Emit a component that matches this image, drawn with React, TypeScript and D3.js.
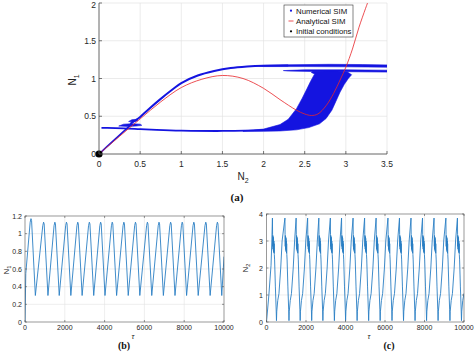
import React from 'react';
import * as d3 from 'd3';

const W = 474;
const H = 356;

// ---------- (a) phase portrait, points are [N2, N1] ----------
const analyticalSIM: [number, number][] = [
  [0, 0], [0.25, 0.235], [0.5, 0.465], [0.75, 0.69], [1.0, 0.88], [1.25, 0.99], [1.5, 1.04],
  [1.75, 1.0], [2.0, 0.87], [2.2, 0.72], [2.4, 0.58], [2.5, 0.53], [2.58, 0.51], [2.66, 0.53],
  [2.76, 0.64], [2.85, 0.8], [2.93, 0.98], [3.0, 1.15], [3.08, 1.39], [3.16, 1.68], [3.24, 1.93], [3.28, 2.05],
];
const numTransient: [number, number][] = [[0, 0], [0.1, 0.1], [0.2, 0.2], [0.3, 0.3], [0.38, 0.38]];
const numUpper: [number, number][] = [
  [0.38, 0.4], [0.45, 0.45], [0.5, 0.49], [0.6, 0.59], [0.75, 0.73], [0.9, 0.86], [1.0, 0.94],
  [1.2, 1.04], [1.4, 1.1], [1.6, 1.14], [1.8, 1.16], [2.0, 1.17], [2.3, 1.172],
];
const numLower: [number, number][] = [
  [2.3, 0.335], [2.0, 0.315], [1.5, 0.305], [1.0, 0.31], [0.7, 0.32], [0.5, 0.33], [0.3, 0.34], [0.1, 0.345], [0.03, 0.345],
];
const numTopBand: [number, number][] = [
  [1.9, 1.17], [2.3, 1.182], [2.8, 1.188], [3.2, 1.185], [3.5, 1.18], [3.5, 1.15], [3.0, 1.155], [2.5, 1.158], [2.0, 1.158],
];
const numMidBand: [number, number][] = [
  [2.24, 1.105], [2.5, 1.115], [3.0, 1.115], [3.5, 1.11], [3.5, 1.085], [3.0, 1.09], [2.6, 1.092], [2.3, 1.098],
];
const numFan: [number, number][] = [
  [1.75, 0.305], [2.0, 0.33], [2.2, 0.39], [2.3, 0.46], [2.4, 0.6], [2.47, 0.74], [2.53, 0.87], [2.57, 0.96],
  [2.6, 1.02], [2.62, 1.06], [2.58, 1.08], [2.6, 1.095], [2.75, 1.1], [2.9, 1.098], [3.02, 1.085], [3.07, 1.05],
  [3.03, 1.0], [2.98, 0.92], [2.93, 0.82], [2.88, 0.7], [2.83, 0.58], [2.76, 0.47], [2.68, 0.4], [2.55, 0.35],
  [2.4, 0.32], [2.2, 0.305], [2.0, 0.3], [1.75, 0.3],
];
const numBlob1: [number, number][] = [[0.24, 0.37], [0.3, 0.395], [0.4, 0.402], [0.5, 0.395], [0.52, 0.38], [0.45, 0.37], [0.35, 0.365]];
const numBlob2: [number, number][] = [[0.36, 0.43], [0.4, 0.455], [0.46, 0.46], [0.47, 0.44], [0.42, 0.425]];
const initialCondition: [number, number] = [0, 0];
const aXTicks = [0, 0.5, 1, 1.5, 2, 2.5, 3, 3.5];
const aYTicks = [0, 0.5, 1, 1.5, 2];
const legendLabels = ['Numerical SIM', 'Analytical SIM', 'Initial conditions'];

// ---------- (b), (c) time series ----------
const cycleTimes = [300, 933, 1500, 2083, 2650, 3233, 3800, 4383, 4967, 5550, 6150, 6733, 7317, 7900, 8483, 9083, 9667];
const n1Peaks = [1.17, 1.13, 1.13, 1.13, 1.13, 1.13, 1.13, 1.13, 1.13, 1.13, 1.13, 1.13, 1.13, 1.13, 1.13, 1.13, 1.13];
const n1Start: [number, number][] = [[0, 0], [40, 0.55]];
const n1CycleOffsets = [-40, 0, 30, 220];
const n1CycleDelta = [-0.04, 0, -0.02, null];
const n1Trough = 0.3;
const n1End: [number, number][] = [[10000, 0.74]];

const n2Start: [number, number][] = [[0, 0], [120, 1.0], [230, 2.1], [270, 3.0]];
const n2CycleOffsets = [0, 8, 16, 24, 32, 40, 48, 56, 64, 72, 80, 88, 96, 110, 150, 190, 205, 220, 270, 330, 420, 490];
const n2CycleValues = [3.85, 3.25, 2.8, 3.2, 2.7, 3.15, 2.65, 3.1, 2.6, 3.0, 2.55, 2.9, 2.5, 2.3, 1.3, 0.45, 0.05, 0.4, 0.8, 1.05, 2.0, 3.0];
const n2End: [number, number][] = [[10000, 1.06]];

const bXTicks = [0, 2000, 4000, 6000, 8000, 10000];
const bYTicks = [0, 0.2, 0.4, 0.6, 0.8, 1, 1.2];
const cYTicks = [0, 1, 2, 3, 4];

function buildN1(): [number, number][] {
  const pts: [number, number][] = [...n1Start];
  cycleTimes.forEach((s, i) => {
    n1CycleOffsets.forEach((o, j) => {
      const d = n1CycleDelta[j];
      const v = d === null ? n1Trough : n1Peaks[i] + d;
      if (s + o < 10000) pts.push([s + o, v]);
    });
  });
  return [...pts, ...n1End];
}
function buildN2(): [number, number][] {
  const pts: [number, number][] = [...n2Start];
  cycleTimes.forEach((s) => {
    n2CycleOffsets.forEach((o, j) => {
      if (s + o < 10000) pts.push([s + o, n2CycleValues[j]]);
    });
  });
  return [...pts, ...n2End];
}

const FONT = "'Liberation Sans', Arial, sans-serif";
const SERIF = "'Liberation Serif', 'Times New Roman', serif";
const AX = '#404040';
const GRID = '#e3e3e3';
const BLUE = '#1414e0';
const LINE = '#2a7fc4';

function Sub({ x, y, main, sub, size, rotate }: { x: number; y: number; main: string; sub: string; size: number; rotate?: boolean }) {
  return (
    <text x={x} y={y} fontFamily={FONT} fontSize={size} fill="#222" textAnchor="middle"
      transform={rotate ? `rotate(-90 ${x} ${y})` : undefined}>
      {main}
      <tspan fontSize={size * 0.7} dy={size * 0.3}>{sub}</tspan>
    </text>
  );
}

export default function App() {
  // (a)
  const xA = d3.scaleLinear().domain([0, 3.5]).range([99, 387]);
  const yA = d3.scaleLinear().domain([0, 2]).range([154, 3]);
  const lineA = d3.line<[number, number]>().x((d) => xA(d[0])).y((d) => yA(d[1]));
  const smoothA = d3.line<[number, number]>().x((d) => xA(d[0])).y((d) => yA(d[1])).curve(d3.curveCatmullRom);
  const polyA = (pts: [number, number][]) => lineA(pts) + 'Z';

  // (b)
  const xB = d3.scaleLinear().domain([0, 10000]).range([25, 224]);
  const yB = d3.scaleLinear().domain([0, 1.2]).range([322, 216]);
  const lineB = d3.line<[number, number]>().x((d) => xB(d[0])).y((d) => yB(d[1]));
  // (c)
  const xC = d3.scaleLinear().domain([0, 10000]).range([266.5, 464]);
  const yC = d3.scaleLinear().domain([0, 4]).range([322, 214]);
  const lineC = d3.line<[number, number]>().x((d) => xC(d[0])).y((d) => yC(d[1]));

  const n1 = buildN1();
  const n2 = buildN2();

  const fmt = (v: number) => String(v);

  return (
    <svg width={W} height={H} style={{ position: 'absolute', left: 0, top: 0, background: '#fff' }}>
      <defs>
        <clipPath id="clipA"><rect x={99} y={3} width={288} height={151} /></clipPath>
        <clipPath id="clipB"><rect x={25} y={216} width={199} height={106} /></clipPath>
        <clipPath id="clipC"><rect x={266.5} y={214} width={197.5} height={108} /></clipPath>
      </defs>

      {/* ---------- (a) ---------- */}
      {aXTicks.filter((t) => t > 0).map((t) => (
        <line key={'gax' + t} x1={xA(t)} x2={xA(t)} y1={yA(0)} y2={yA(2)} stroke={GRID} strokeWidth={0.7} />
      ))}
      {aYTicks.filter((t) => t > 0).map((t) => (
        <line key={'gay' + t} x1={xA(0)} x2={xA(3.5)} y1={yA(t)} y2={yA(t)} stroke={GRID} strokeWidth={0.7} />
      ))}
      <g clipPath="url(#clipA)">
        <path d={polyA(numFan)} fill={BLUE} stroke={BLUE} strokeWidth={0.6} />
        <path d={polyA(numTopBand)} fill={BLUE} stroke={BLUE} strokeWidth={0.6} />
        <path d={polyA(numMidBand)} fill={BLUE} stroke={BLUE} strokeWidth={0.6} />
        <path d={polyA(numBlob1)} fill={BLUE} stroke={BLUE} strokeWidth={0.6} />
        <path d={polyA(numBlob2)} fill={BLUE} stroke={BLUE} strokeWidth={0.6} />
        <path d={smoothA(numUpper) || ''} fill="none" stroke={BLUE} strokeWidth={2} />
        <path d={smoothA(numLower) || ''} fill="none" stroke={BLUE} strokeWidth={1.8} />
        <path d={lineA(numTransient) || ''} fill="none" stroke={BLUE} strokeWidth={1.6} />
        <path d={smoothA(analyticalSIM) || ''} fill="none" stroke="#e8262b" strokeWidth={0.9} opacity={0.9} />
      </g>
      <circle cx={xA(initialCondition[0])} cy={yA(initialCondition[1])} r={3.6} fill="#000" />
      <line x1={xA(0)} x2={xA(0)} y1={yA(0)} y2={yA(2)} stroke={AX} strokeWidth={0.8} />
      <line x1={xA(0)} x2={xA(3.5)} y1={yA(0)} y2={yA(0)} stroke={AX} strokeWidth={0.8} />
      {aXTicks.map((t) => (
        <g key={'tax' + t}>
          <line x1={xA(t)} x2={xA(t)} y1={yA(0)} y2={yA(0) - 3} stroke={AX} strokeWidth={0.7} />
          <text x={xA(t)} y={167} fontFamily={FONT} fontSize={8.5} fill="#262626" textAnchor="middle">{fmt(t)}</text>
        </g>
      ))}
      {aYTicks.map((t) => (
        <g key={'tay' + t}>
          <line x1={xA(0)} x2={xA(0) + 3} y1={yA(t)} y2={yA(t)} stroke={AX} strokeWidth={0.7} />
          <text x={96} y={Math.max(yA(t) + 3, 8)} fontFamily={FONT} fontSize={8.5} fill="#262626" textAnchor="end">{fmt(t)}</text>
        </g>
      ))}
      <Sub x={243} y={180} main="N" sub="2" size={10} />
      <Sub x={76} y={80} main="N" sub="1" size={10} rotate />
      <text x={237} y={201} fontFamily={SERIF} fontWeight="bold" fontSize={11} textAnchor="middle" fill="#111">(a)</text>

      {/* legend */}
      <rect x={284} y={5} width={69} height={32} fill="#fff" stroke="#333" strokeWidth={0.6} />
      <circle cx={291} cy={10.7} r={1.1} fill={BLUE} />
      <line x1={288.5} x2={293.5} y1={21} y2={21} stroke="#e8262b" strokeWidth={0.8} />
      <circle cx={291} cy={31.3} r={1.1} fill="#000" />
      {legendLabels.map((l, i) => (
        <text key={l} x={296} y={13.5 + i * 10.3} fontFamily={FONT} fontSize={7.8} fill="#111">{l}</text>
      ))}

      {/* ---------- (b) ---------- */}
      {bXTicks.filter((t) => t > 0 && t < 10000).map((t) => (
        <line key={'gbx' + t} x1={xB(t)} x2={xB(t)} y1={yB(0)} y2={yB(1.2)} stroke={GRID} strokeWidth={0.6} />
      ))}
      {bYTicks.filter((t) => t > 0 && t < 1.2).map((t) => (
        <line key={'gby' + t} x1={xB(0)} x2={xB(10000)} y1={yB(t)} y2={yB(t)} stroke={GRID} strokeWidth={0.6} />
      ))}
      <g clipPath="url(#clipB)">
        <path d={lineB(n1) || ''} fill="none" stroke={LINE} strokeWidth={0.9} />
      </g>
      <rect x={xB(0)} y={yB(1.2)} width={xB(10000) - xB(0)} height={yB(0) - yB(1.2)} fill="none" stroke="#555" strokeWidth={0.6} />
      {bXTicks.map((t) => (
        <g key={'tbx' + t}>
          <line x1={xB(t)} x2={xB(t)} y1={yB(0)} y2={yB(0) - 2} stroke="#555" strokeWidth={0.6} />
          <line x1={xB(t)} x2={xB(t)} y1={yB(1.2)} y2={yB(1.2) + 2} stroke="#555" strokeWidth={0.6} />
          <text x={xB(t)} y={330} fontFamily={FONT} fontSize={7} fill="#262626" textAnchor="middle">{t}</text>
        </g>
      ))}
      {bYTicks.map((t) => (
        <g key={'tby' + t}>
          <line x1={xB(0)} x2={xB(0) + 2} y1={yB(t)} y2={yB(t)} stroke="#555" strokeWidth={0.6} />
          <line x1={xB(10000)} x2={xB(10000) - 2} y1={yB(t)} y2={yB(t)} stroke="#555" strokeWidth={0.6} />
          <text x={22} y={yB(t) + 2.5} fontFamily={FONT} fontSize={7} fill="#262626" textAnchor="end">{fmt(t)}</text>
        </g>
      ))}
      <Sub x={9} y={270} main="N" sub="1" size={8} rotate />
      <text x={133} y={339} fontFamily={FONT} fontSize={7.5} fontStyle="italic" fill="#222" textAnchor="middle">τ</text>
      <text x={124} y={349} fontFamily={SERIF} fontWeight="bold" fontSize={10} textAnchor="middle" fill="#111">(b)</text>

      {/* ---------- (c) ---------- */}
      {bXTicks.filter((t) => t > 0 && t < 10000).map((t) => (
        <line key={'gcx' + t} x1={xC(t)} x2={xC(t)} y1={yC(0)} y2={yC(4)} stroke={GRID} strokeWidth={0.6} />
      ))}
      {cYTicks.filter((t) => t > 0 && t < 4).map((t) => (
        <line key={'gcy' + t} x1={xC(0)} x2={xC(10000)} y1={yC(t)} y2={yC(t)} stroke={GRID} strokeWidth={0.6} />
      ))}
      <g clipPath="url(#clipC)">
        <path d={lineC(n2) || ''} fill="none" stroke={LINE} strokeWidth={0.9} />
      </g>
      <rect x={xC(0)} y={yC(4)} width={xC(10000) - xC(0)} height={yC(0) - yC(4)} fill="none" stroke="#555" strokeWidth={0.6} />
      {bXTicks.map((t) => (
        <g key={'tcx' + t}>
          <line x1={xC(t)} x2={xC(t)} y1={yC(0)} y2={yC(0) - 2} stroke="#555" strokeWidth={0.6} />
          <line x1={xC(t)} x2={xC(t)} y1={yC(4)} y2={yC(4) + 2} stroke="#555" strokeWidth={0.6} />
          <text x={xC(t)} y={330} fontFamily={FONT} fontSize={7} fill="#262626" textAnchor="middle">{t}</text>
        </g>
      ))}
      {cYTicks.map((t) => (
        <g key={'tcy' + t}>
          <line x1={xC(0)} x2={xC(0) + 2} y1={yC(t)} y2={yC(t)} stroke="#555" strokeWidth={0.6} />
          <line x1={xC(10000)} x2={xC(10000) - 2} y1={yC(t)} y2={yC(t)} stroke="#555" strokeWidth={0.6} />
          <text x={263} y={yC(t) + 2.5} fontFamily={FONT} fontSize={7} fill="#262626" textAnchor="end">{fmt(t)}</text>
        </g>
      ))}
      <Sub x={248} y={268} main="N" sub="2" size={8} rotate />
      <text x={369} y={339} fontFamily={FONT} fontSize={7.5} fontStyle="italic" fill="#222" textAnchor="middle">τ</text>
      <text x={389} y={349} fontFamily={SERIF} fontWeight="bold" fontSize={10} textAnchor="middle" fill="#111">(c)</text>
    </svg>
  );
}
